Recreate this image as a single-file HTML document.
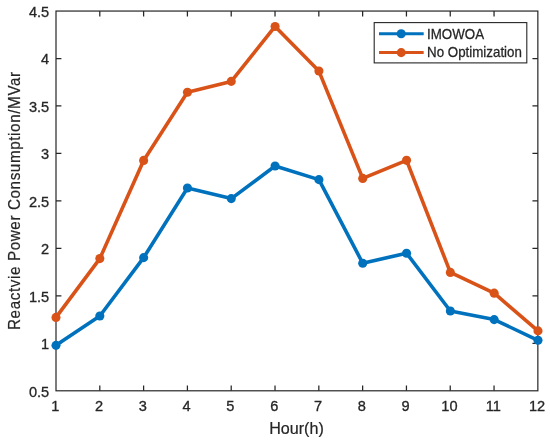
<!DOCTYPE html>
<html><head><meta charset="utf-8"><title>Reactive Power Consumption</title>
<style>html,body{margin:0;padding:0;background:#fff;}body{width:550px;height:441px;position:relative;overflow:hidden;font-family:"Liberation Sans",Arial,sans-serif;}</style>
</head><body>
<svg width="550" height="441" viewBox="0 0 550 441" style="position:absolute;left:0;top:0">
<rect x="0" y="0" width="550" height="441" fill="#fff"/>
<path d="M99.80 390.8V385.40000000000003M99.80 11.05V16.450000000000003M143.61 390.8V385.40000000000003M143.61 11.05V16.450000000000003M187.41 390.8V385.40000000000003M187.41 11.05V16.450000000000003M231.22 390.8V385.40000000000003M231.22 11.05V16.450000000000003M275.02 390.8V385.40000000000003M275.02 11.05V16.450000000000003M318.83 390.8V385.40000000000003M318.83 11.05V16.450000000000003M362.63 390.8V385.40000000000003M362.63 11.05V16.450000000000003M406.44 390.8V385.40000000000003M406.44 11.05V16.450000000000003M450.24 390.8V385.40000000000003M450.24 11.05V16.450000000000003M494.05 390.8V385.40000000000003M494.05 11.05V16.450000000000003M56.0 343.33H61.4M537.85 343.33H532.45M56.0 295.86H61.4M537.85 295.86H532.45M56.0 248.39H61.4M537.85 248.39H532.45M56.0 200.93H61.4M537.85 200.93H532.45M56.0 153.46H61.4M537.85 153.46H532.45M56.0 105.99H61.4M537.85 105.99H532.45M56.0 58.52H61.4M537.85 58.52H532.45" stroke="#262626" stroke-width="1.25" fill="none"/>
<rect x="56.0" y="11.05" width="481.85" height="379.75" fill="none" stroke="#262626" stroke-width="1.2"/>
<polyline points="56.00,345.37 99.82,316.00 143.64,257.63 187.45,187.99 231.27,198.60 275.09,166.01 318.91,179.65 362.73,263.22 406.55,253.18 450.36,310.98 494.18,319.60 538.00,340.26" fill="none" stroke="#0072BD" stroke-width="3.6" stroke-linejoin="round" stroke-linecap="butt"/>
<circle cx="56.00" cy="345.37" r="4.55" fill="#0072BD"/>
<circle cx="99.82" cy="316.00" r="4.55" fill="#0072BD"/>
<circle cx="143.64" cy="257.63" r="4.55" fill="#0072BD"/>
<circle cx="187.45" cy="187.99" r="4.55" fill="#0072BD"/>
<circle cx="231.27" cy="198.60" r="4.55" fill="#0072BD"/>
<circle cx="275.09" cy="166.01" r="4.55" fill="#0072BD"/>
<circle cx="318.91" cy="179.65" r="4.55" fill="#0072BD"/>
<circle cx="362.73" cy="263.22" r="4.55" fill="#0072BD"/>
<circle cx="406.55" cy="253.18" r="4.55" fill="#0072BD"/>
<circle cx="450.36" cy="310.98" r="4.55" fill="#0072BD"/>
<circle cx="494.18" cy="319.60" r="4.55" fill="#0072BD"/>
<circle cx="538.00" cy="340.26" r="4.55" fill="#0072BD"/>
<polyline points="56.00,317.42 99.82,258.58 143.64,160.42 187.45,92.30 231.27,81.40 275.09,26.44 318.91,71.07 362.73,178.42 406.55,160.33 450.36,272.42 494.18,293.17 538.00,330.88" fill="none" stroke="#D95319" stroke-width="3.6" stroke-linejoin="round" stroke-linecap="butt"/>
<circle cx="56.00" cy="317.42" r="4.55" fill="#D95319"/>
<circle cx="99.82" cy="258.58" r="4.55" fill="#D95319"/>
<circle cx="143.64" cy="160.42" r="4.55" fill="#D95319"/>
<circle cx="187.45" cy="92.30" r="4.55" fill="#D95319"/>
<circle cx="231.27" cy="81.40" r="4.55" fill="#D95319"/>
<circle cx="275.09" cy="26.44" r="4.55" fill="#D95319"/>
<circle cx="318.91" cy="71.07" r="4.55" fill="#D95319"/>
<circle cx="362.73" cy="178.42" r="4.55" fill="#D95319"/>
<circle cx="406.55" cy="160.33" r="4.55" fill="#D95319"/>
<circle cx="450.36" cy="272.42" r="4.55" fill="#D95319"/>
<circle cx="494.18" cy="293.17" r="4.55" fill="#D95319"/>
<circle cx="538.00" cy="330.88" r="4.55" fill="#D95319"/>
<rect x="374.2" y="22.6" width="152.6" height="40.3" fill="#fff" stroke="#262626" stroke-width="1.1"/>
<line x1="379" x2="423.7" y1="33.8" y2="33.8" stroke="#0072BD" stroke-width="3.0"/><circle cx="401.2" cy="33.8" r="4.55" fill="#0072BD"/>
<line x1="379" x2="423.7" y1="52.6" y2="52.6" stroke="#D95319" stroke-width="3.0"/><circle cx="401.2" cy="52.6" r="4.55" fill="#D95319"/>
<g font-family="Liberation Sans, Arimo, Arial, sans-serif" font-size="13.35" fill="#262626" stroke="#262626" stroke-width="0.25"><text transform="translate(427.0,38.6) scale(1,1.06)">IMOWOA</text><text transform="translate(427.0,57.1) scale(1,1.06)">No Optimization</text></g>
<g font-family="Liberation Sans, Arimo, Arial, sans-serif" font-size="14.6" fill="#262626" stroke="#262626" stroke-width="0.3" text-anchor="middle">
<text transform="translate(55.20,411.35) scale(1,1.06)">1</text><text transform="translate(99.00,411.35) scale(1,1.06)">2</text><text transform="translate(142.81,411.35) scale(1,1.06)">3</text><text transform="translate(186.61,411.35) scale(1,1.06)">4</text><text transform="translate(230.42,411.35) scale(1,1.06)">5</text><text transform="translate(274.22,411.35) scale(1,1.06)">6</text><text transform="translate(318.03,411.35) scale(1,1.06)">7</text><text transform="translate(361.83,411.35) scale(1,1.06)">8</text><text transform="translate(405.64,411.35) scale(1,1.06)">9</text><text transform="translate(449.44,411.35) scale(1,1.06)">10</text><text transform="translate(493.25,411.35) scale(1,1.06)">11</text><text transform="translate(537.05,411.35) scale(1,1.06)">12</text></g>
<g font-family="Liberation Sans, Arimo, Arial, sans-serif" font-size="14.6" fill="#262626" stroke="#262626" stroke-width="0.3" text-anchor="end">
<text transform="translate(49.2,396.50) scale(1,1.06)">0.5</text><text transform="translate(49.2,349.03) scale(1,1.06)">1</text><text transform="translate(49.2,301.56) scale(1,1.06)">1.5</text><text transform="translate(49.2,254.09) scale(1,1.06)">2</text><text transform="translate(49.2,206.62) scale(1,1.06)">2.5</text><text transform="translate(49.2,159.16) scale(1,1.06)">3</text><text transform="translate(49.2,111.69) scale(1,1.06)">3.5</text><text transform="translate(49.2,64.22) scale(1,1.06)">4</text><text transform="translate(49.2,16.75) scale(1,1.06)">4.5</text></g>
<text font-family="Liberation Sans, Arimo, Arial, sans-serif" font-size="16.13" fill="#262626" stroke="#262626" stroke-width="0.2" text-anchor="middle" x="296.5" y="434.2">Hour(h)</text>
<text font-family="Liberation Sans, Arimo, Arial, sans-serif" font-size="15.2" fill="#262626" stroke="#262626" stroke-width="0.2" text-anchor="middle" textLength="258.2" lengthAdjust="spacing" transform="translate(19.5,200.95) rotate(-90) scale(1,1.03)">Reactvie Power Consumption/MVar</text>
</svg>
</body></html>
